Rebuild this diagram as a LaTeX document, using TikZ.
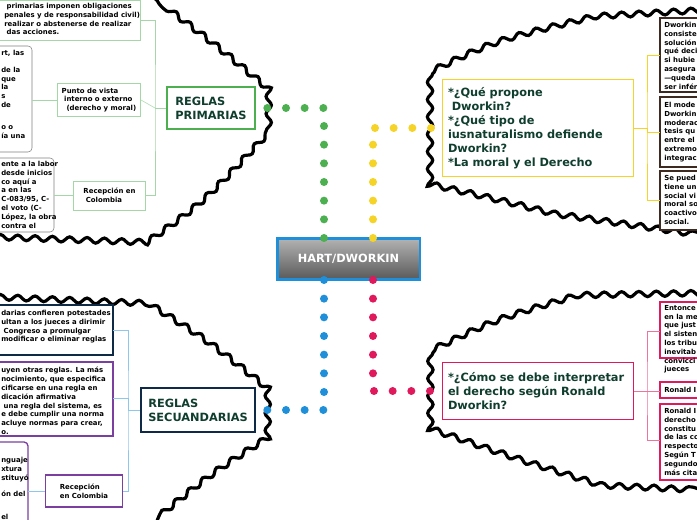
\documentclass[tikz,border=0pt]{standalone}
\usepackage{fontspec}
\setmainfont{DejaVu Sans}
\usetikzlibrary{decorations.pathmorphing}
\definecolor{gr}{HTML}{4CAF50}
\definecolor{lgr}{HTML}{A5D6A7}
\definecolor{yl}{HTML}{F5D327}
\definecolor{pk}{HTML}{E0185C}
\definecolor{bl}{HTML}{1E8FD8}
\definecolor{nv}{HTML}{0E2A47}
\definecolor{pu}{HTML}{7B3FA0}
\definecolor{br}{HTML}{3E2A20}
\definecolor{tx}{HTML}{0F3D2E}
\begin{document}
\begin{tikzpicture}[x=0.75pt,y=-0.75pt,
  small/.style={font=\bfseries\fontsize{5.2}{6.6}\selectfont,align=left,inner sep=0pt,anchor=north west},
  big/.style={font=\bfseries\fontsize{8.5}{10.5}\selectfont,text=tx,align=left,fill=white},
  cloud/.style={draw=black,line width=2.4pt,decorate,decoration={snake,amplitude=2pt,segment length=13pt}},
  dot/.style={line width=6pt,dash pattern=on 0pt off 14pt,line cap=round}]
\useasboundingbox (0,0) rectangle (697,520);
\clip (0,0) rectangle (697,520);
\fill[white] (0,0) rectangle (697,520);
% clouds
\draw[cloud] (-5,237) -- (140,242) .. controls (200,200) .. (265,130) -- (265,86) .. controls (210,40) .. (150,-5);
\draw[cloud] (-5,297) -- (140,303) .. controls (200,340) .. (265,392) -- (265,445) .. controls (210,480) .. (155,525);
\draw[cloud] (705,10) -- (600,16) .. controls (500,40) .. (434,72) -- (434,185) .. controls (500,200) .. (560,215) -- (705,236);
\draw[cloud] (705,293) -- (585,295) .. controls (500,320) .. (434,352) -- (434,430) .. controls (520,460) .. (600,485) -- (705,490);
% dotted connectors
\coordinate (g0) at (324,238); \coordinate (g1) at (324,108);
\coordinate (y0) at (373,238); \coordinate (y1) at (373,128);
\coordinate (p0) at (373,280); \coordinate (p1) at (373,391);
\coordinate (b0) at (324,280); \coordinate (b1) at (324,410);
% main nodes
\node[draw=bl,line width=2pt,inner sep=0,
  top color=gray!60,bottom color=black!65,text=white,font=\bfseries\fontsize{8.5}{10}\selectfont,
  minimum width=107pt,minimum height=31pt] (c) at (348.5,259) {HART/DWORKIN};
\node[draw=gr,line width=1.6pt,big,minimum width=66pt,minimum height=32pt] (rp) at (211,108) {REGLAS\\PRIMARIAS};
\node[draw=yl,line width=1.2pt,big,minimum width=143pt,minimum height=73pt,text width=135pt] (q1) at (538,128) {*¿Qué propone\\\ Dworkin?\\{}*¿Qué tipo de\\iusnaturalismo defiende\\Dworkin?\\{}*La moral y el Derecho};
\node[draw=pk,line width=1.2pt,big,minimum width=143pt,minimum height=43pt,text width=135pt] (q2) at (538,391) {*¿Cómo se debe interpretar\\el derecho según Ronald\\Dworkin?};
\node[draw=nv,line width=1.6pt,big,minimum width=86pt,minimum height=33pt] (rs) at (198,410) {REGLAS\\SECUANDARIAS};
\draw[dot,gr] (g0) -- (g1) -- (rp.east);
\draw[dot,yl] (y0) -- (y1) -- (q1.west);
\draw[dot,pk] (p0) -- (p1) -- (q2.west);
\draw[dot,bl] (b0) -- (b1) -- (rs.east);
% green children
\draw[lgr,thin] (-5,0) rectangle (140,40);
\node[small] (a1) at (4,3) {\ primarias imponen obligaciones\\penales y de responsabilidad civil)\\realizar o abstenerse de realizar\\\ das acciones.};
\node[draw=lgr,thin,font=\bfseries\fontsize{5.2}{6.6}\selectfont,align=left,minimum width=62,minimum height=24] (a2) at (99,100) {Punto de vista\\\ interno o externo\\\ \ (derecho y moral)};
\node[draw=lgr,thin,font=\bfseries\fontsize{5.2}{6.6}\selectfont,align=left,minimum width=54,minimum height=22] (a3) at (109.5,195.5) {Recepción en\\\ Colombia};
\draw[gray,rounded corners=3pt] (-10,46) rectangle (32,152);
\node[small] (a4) at (1,50) {rt, las\\[6pt]de la\\que\\la\\s\\de\\[10pt]o o\\ía una};
\draw[gray,rounded corners=3pt] (-10,158) rectangle (54,232);
\node[small] (a5) at (1,161) {ente a la labor\\desde inicios\\co aquí a\\a en las\\C-083/95, C-\\el voto (C-\\López, la obra\\contra el\\.};
\coordinate (gv) at (155,108);
\draw[lgr,thin] (rp.west) -- (gv);
\draw[lgr,thin] (140,20) -| (gv) |- (a3.east);
\draw[lgr,thin] (gv) -- (a2.east);
\draw[lgr,thin] (a2.west) -- (32,100);
\draw[lgr,thin] (a3.west) -- (54,195.5);
% yellow children
\draw[br,line width=1pt,fill=white] (660,18) rectangle (710,92);
\node[small] (d1) at (664,22) {Dworkin\\consiste\\solución\\qué deci\\si hubie\\asegura\\—queda\\ser infér};
\draw[br,line width=1pt,fill=white] (660,97) rectangle (710,167);
\node[small] (d2) at (664,102) {El mode\\Dworkin\\moderac\\tesis qu\\entre el\\extremo\\integrac};
\draw[br,line width=1pt,fill=white] (660,171) rectangle (710,230);
\node[small] (d3) at (664,175) {Se pued\\tiene un\\social vi\\moral so\\coactivo\\social.};
\coordinate (yv) at (647,128);
\draw[yl,thin] (q1.east) -- (yv);
\draw[yl,thin] (660,55) -| (yv) |- (660,200);
\draw[yl,thin] (yv) -- (647,132) -- (660,132);
% pink children
\draw[pk,line width=1.2pt,fill=white] (660,302) rectangle (710,358);
\node[small] (e1) at (664,305) {Entonce\\en la me\\que just\\el sisten\\los tribu\\inevitab\\convicci\\jueces};
\draw[pk,line width=1.2pt,fill=white] (660,382) rectangle (710,398);
\node[small] (e2) at (664,387) {Ronald I};
\draw[pk,line width=1.2pt,fill=white] (660,404) rectangle (710,480);
\node[small] (e3) at (664,408) {Ronald I\\derecho\\constitu\\de las cc\\respecto\\Según T\\segundo\\más cita};
\coordinate (pv) at (647,391);
\draw[pk!60,thin] (q2.east) -- (pv);
\draw[pk!60,thin] (660,331) -| (pv) |- (660,440);
\draw[pk!60,thin] (pv) -- (660,391);
% blue children
\draw[nv,line width=1pt] (-5,305) rectangle (113,355);
\node[small] (f1) at (1,310) {darias confieren potestades\\ultan a los jueces a dirimir\\\ Congreso a promulgar\\modificar o eliminar reglas};
\draw[pu,line width=1pt] (-5,362) rectangle (113,436);
\node[small] (f2) at (1,367) {uyen otras reglas. La más\\nocimiento, que especifica\\cificarse en una regla en\\dicación afirmativa\\\ una regla del sistema, es\\e debe cumplir una norma\\acluye normas para crear,\\o.};
\node[draw=pu,line width=1pt,font=\bfseries\fontsize{5.2}{6.6}\selectfont,align=left,minimum width=58,minimum height=24] (f3) at (84,491) {Recepción\\en Colombia};
\draw[pu,line width=1pt,rounded corners=3pt] (-10,442) rectangle (28,530);
\node[small] (f4) at (1,457) {nguaje\\xtura\\stituyó\\[6pt]ón del\\[10pt]el};
\coordinate (bv) at (128,410);
\draw[bl!50,thin] (rs.west) -- (bv);
\draw[bl!50,thin] (113,330) -| (bv) |- (f3.east);
\draw[bl!50,thin] (bv) -- (128,398) -- (113,398);
\draw[bl!50,thin] (f3.west) -- (28,491);
\end{tikzpicture}
\end{document}
